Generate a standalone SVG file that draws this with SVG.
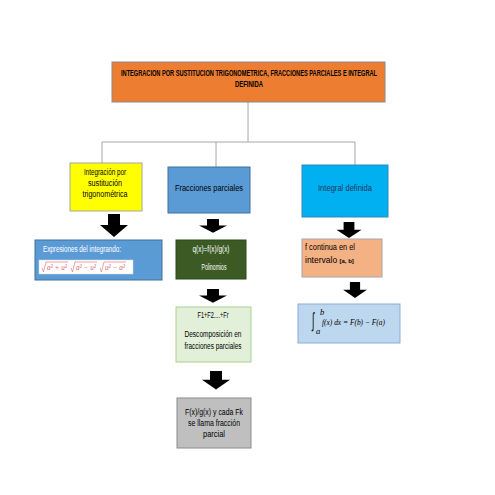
<svg xmlns="http://www.w3.org/2000/svg" width="495" height="495" viewBox="0 0 495 495">
<defs>
<style>
text{font-family:"Liberation Sans Narrow","Liberation Sans",Arial,sans-serif;font-size:8.5px;fill:#000}
.c{text-anchor:middle}
.w{fill:#fff}
.line{stroke:#a6a6a6;stroke-width:1;fill:none}
.math{font-family:"Liberation Serif","DejaVu Serif",serif;font-style:italic;font-size:8.5px}
</style>
<path id="arr" d="M-6,0 H6 V11 H14 L0,23 L-14,11 H-6 Z" fill="#000"/>
</defs>
<rect width="495" height="495" fill="#fff"/>
<g id="connectors">
<path class="line" d="M248,102 V142 M102,142 H355 M102,142 V163 M216,142 V167 M355,142 V165"/>
<use href="#arr" transform="translate(114,214)"/>
<use href="#arr" transform="translate(213,219) scale(1,0.6)"/>
<use href="#arr" transform="translate(349,222) scale(0.9,0.7)"/>
<use href="#arr" transform="translate(355,282) scale(0.85,0.7)"/>
<use href="#arr" transform="translate(213,289) scale(1,0.6)"/>
<use href="#arr" transform="translate(216,371) scale(1,0.8)"/>
</g>
<g id="title">
<rect x="112" y="62" width="273" height="40" fill="#ED7D31" stroke="#8c8c8c"/>
<text x="249" y="76" class="c" font-weight="bold" font-size="6.8px" textLength="256" lengthAdjust="spacingAndGlyphs">INTEGRACION POR SUSTITUCION TRIGONOMETRICA, FRACCIONES PARCIALES E INTEGRAL</text>
<text x="249" y="87" class="c" font-weight="bold" font-size="6.8px" textLength="28" lengthAdjust="spacingAndGlyphs">DEFINIDA</text>
</g>
<g id="sustitucion">
<rect x="70" y="163" width="72" height="48" fill="#FFFF00" stroke="#a6a6a6"/>
<text x="105" y="175" class="c" textLength="42" lengthAdjust="spacingAndGlyphs">Integración por</text>
<text x="105" y="186" class="c" textLength="34" lengthAdjust="spacingAndGlyphs">sustitución</text>
<text x="105" y="197" class="c" textLength="45" lengthAdjust="spacingAndGlyphs">trigonométrica</text>
</g>
<g id="expresiones">
<rect x="35" y="240" width="127" height="40" fill="#5B9BD5" stroke="#41719C"/>
<text x="43" y="252" class="w" textLength="78" lengthAdjust="spacingAndGlyphs">Expresiones del integrando:</text>
<rect x="39" y="260" width="94" height="14" fill="#fff" stroke="#d9d9d9" stroke-width="0.5"/>
<g fill="none" stroke="#e06666" stroke-width="0.6">
<path d="M42,268 L43.5,272 L46,262 H68"/>
<path d="M71,268 L72.5,272 L75,262 H97"/>
<path d="M100,268 L101.5,272 L104,262 H126"/>
</g>
<text x="47" y="270" font-size="6.5px" style="fill:#e06666" class="math" textLength="20" lengthAdjust="spacingAndGlyphs">a² + u²</text>
<text x="76" y="270" font-size="6.5px" style="fill:#e06666" class="math" textLength="20" lengthAdjust="spacingAndGlyphs">a² − u²</text>
<text x="105" y="270" font-size="6.5px" style="fill:#e06666" class="math" textLength="20" lengthAdjust="spacingAndGlyphs">u² − a²</text>
</g>
<g id="fracciones">
<rect x="168" y="167" width="82" height="46" fill="#5B9BD5" stroke="#41719C"/>
<text x="209" y="191" class="c" font-size="9px" textLength="68" lengthAdjust="spacingAndGlyphs">Fracciones parciales</text>
</g>
<g id="polinomios">
<rect x="176" y="240" width="70" height="39" fill="#3B5A24" stroke="#2e4a1c"/>
<text x="211" y="252" class="c w" font-size="8px" textLength="37" lengthAdjust="spacingAndGlyphs">q(x)=f(x)/g(x)</text>
<text x="214" y="270" class="c w" font-size="8px" textLength="25" lengthAdjust="spacingAndGlyphs">Polinomios</text>
</g>
<g id="descomposicion">
<rect x="176" y="307" width="75" height="55" fill="#E2F0D9" stroke="#a9d18e"/>
<text x="213" y="318" class="c" font-size="8px" textLength="31" lengthAdjust="spacingAndGlyphs">F1+F2....+Fr</text>
<text x="213" y="337" class="c" font-size="8px" textLength="57" lengthAdjust="spacingAndGlyphs">Descomposición en</text>
<text x="213" y="349" class="c" font-size="8px" textLength="57" lengthAdjust="spacingAndGlyphs">fracciones parciales</text>
</g>
<g id="fraccionparcial">
<rect x="177" y="398" width="74" height="50" fill="#BFBFBF" stroke="#8c8c8c"/>
<text x="214" y="415" class="c" textLength="58" lengthAdjust="spacingAndGlyphs">F(x)/g(x) y cada Fk</text>
<text x="214" y="426" class="c" textLength="52" lengthAdjust="spacingAndGlyphs">se llama fracción</text>
<text x="214" y="437" class="c" textLength="22" lengthAdjust="spacingAndGlyphs">parcial</text>
</g>
<g id="integral">
<rect x="302" y="165" width="86" height="52" fill="#00B0F0" stroke="#2e8ab8"/>
<text x="345" y="191" class="c" style="fill:#1f3864" textLength="54" lengthAdjust="spacingAndGlyphs">Integral definida</text>
</g>
<g id="continua">
<rect x="302" y="239" width="80" height="38" fill="#F4B183" stroke="#a6a6a6"/>
<text x="305" y="250" textLength="50" lengthAdjust="spacingAndGlyphs">f continua en el</text>
<text x="305" y="263" font-size="7.2px">intervalo <tspan font-weight="bold" font-size="6px">[a, b]</tspan></text>
</g>
<g id="formula">
<rect x="298" y="304" width="102" height="39" fill="#BDD7EE" stroke="#8faadc"/>
<text x="0" y="0" transform="translate(312,327) scale(1,2.4)" font-family="'DejaVu Serif',serif" font-size="9px">∫</text>
<text x="320" y="315" class="math" font-size="5px">b</text>
<text x="316" y="334" class="math" font-size="5px">a</text>
<text x="322" y="325" class="math" textLength="63" lengthAdjust="spacingAndGlyphs">f(x) dx = F(b) − F(a)</text>
</g>
</svg>
